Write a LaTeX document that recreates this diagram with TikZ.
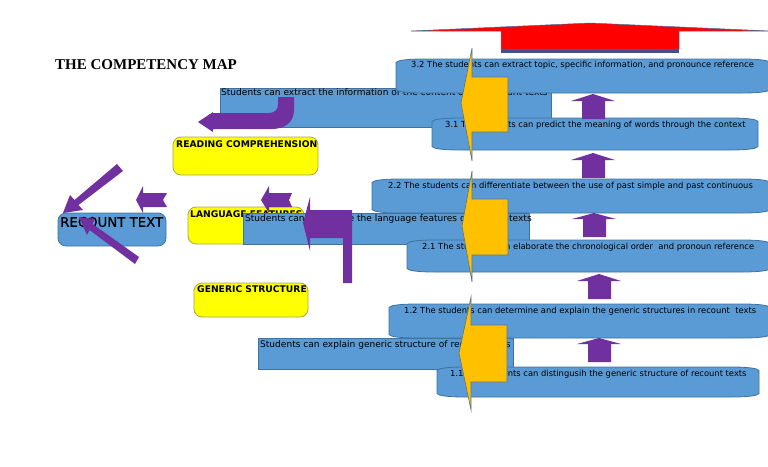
\documentclass[tikz,border=0pt]{standalone}
\usepackage{xcolor}
\usepackage{fontspec}
\setmainfont{DejaVu Sans}
\newfontfamily\titlefont{Liberation Serif}
\newfontfamily\recountfont[FakeBold=0.6]{DejaVu Sans}
\definecolor{boxblue}{HTML}{5B9BD5}
\definecolor{edgeblue}{HTML}{41719C}
\definecolor{arrowpurple}{HTML}{7030A0}
\definecolor{arroworange}{HTML}{FFC000}
\definecolor{pureyellow}{HTML}{FFFF00}
\definecolor{yellowedge}{HTML}{A5A84C}
\definecolor{stripblue}{HTML}{44508A}
\tikzset{
    bluebox/.style={fill=boxblue, draw=edgeblue, line width=0.8pt},
    yellowbox/.style={fill=pureyellow, draw=yellowedge, line width=0.8pt, rounded corners=8pt},
    purplearrow/.style={fill=arrowpurple, draw=none},
    orangearrow/.style={fill=arroworange, draw=edgeblue!70!gray, line width=0.6pt},
    boxtext/.style={font=\fontsize{8.37}{9}\selectfont, anchor=west, inner sep=0pt, text=black},
    plaintext/.style={font=\fontsize{9.05}{10}\selectfont, anchor=west, inner sep=0pt, text=black},
    headtext/.style={font=\fontsize{9.2}{10}\selectfont\bfseries, anchor=west, inner sep=0pt}
}
\newcommand{\pillbox}[4]{%
    \draw[bluebox] (#1,#2+3.5) .. controls (#1+1,#2+1.5) and (#1+10,#2) .. (#1+28,#2) -- (#3-28,#2)
        .. controls (#3-10,#2) and (#3-1,#2+1.5) .. (#3,#2+3.5) -- (#3,#4-3.5)
        .. controls (#3-1,#4-1.5) and (#3-10,#4) .. (#3-28,#4) -- (#1+28,#4)
        .. controls (#1+10,#4) and (#1+1,#4-1.5) .. (#1,#4-3.5) -- cycle;}
\newcommand{\upblock}[4]{%
    \fill[purplearrow] (#1,#2) -- (#1+22,#3) -- (#1+12,#3) -- (#1+12,#4) -- (#1-11,#4) -- (#1-11,#3) -- (#1-22,#3) -- cycle;}
\begin{document}
\begin{tikzpicture}[x=1pt, y=-1pt]
    \useasboundingbox (0,0) rectangle (768,466);

    % Title
    \node[font=\titlefont\fontsize{15}{17}\selectfont\bfseries, anchor=west, inner sep=0pt] (title) at (55,64.5) {THE COMPETENCY MAP};

    % Red arrow at the top
    \draw[fill=stripblue, draw=none] (501,45) rectangle (679,53);
    \draw[fill=red, draw=edgeblue, line width=0.5pt] (590,23) -- (770,31) -- (679,31) -- (679,49) -- (501,49) -- (501,31) -- (411,31) -- cycle;

    % Yellow boxes
    \draw[yellowbox] (173,137) rectangle (318,175);
    \node[headtext] (reading) at (176,144) {READING COMPREHENSION};
    \draw[yellowbox] (188,207) rectangle (304,244);
    \node[headtext] (language) at (190,214) {LANGUAGE FEATURES};
    \draw[yellowbox] (194,283) rectangle (308,317);
    \node[headtext] (generic) at (197,289) {GENERIC STRUCTURE};

    % Recount text
    \draw[bluebox, rounded corners=8pt] (58,213) rectangle (166,246);
    \node[font=\recountfont\fontsize{13.3}{15}\selectfont, anchor=west, inner sep=0pt] (recount) at (60,222) {RECOUNT TEXT};

    % Plain blue boxes
    \draw[bluebox] (220,88) rectangle (551,127);
    \node[plaintext] (extract) at (221,92.5) {Students can extract the information of the content of the recount texts};
    \draw[bluebox] (243,213) rectangle (529,244);
    \node[plaintext] (explainlang) at (245,218.5) {Students can determine the language features of recount texts};
    \draw[bluebox] (258,338) rectangle (513,369);
    \node[plaintext] (explaingen) at (260,344.5) {Students can explain generic structure of recount texts};

    % Competency boxes
    \pillbox{396}{59}{770}{93}
    \node[boxtext] (compa) at (411,65.5) {3.2 The students can extract topic, specific information, and pronounce reference};
    \pillbox{432}{118}{758}{150}
    \node[boxtext] (compb) at (445,125.5) {3.1 The students can predict the meaning of words through the context};
    \pillbox{372}{179}{770}{213}
    \node[boxtext] (compc) at (388,186.5) {2.2 The students can differentiate between the use of past simple and past continuous};
    \pillbox{407}{240}{770}{272}
    \node[boxtext] (compd) at (422,247.5) {2.1 The students can elaborate the chronological order\ \ and pronoun reference};
    \pillbox{389}{304}{770}{338}
    \node[boxtext] (compe) at (404,311.5) {1.2 The students can determine and explain the generic structures in recount\ \ texts};
    \pillbox{437}{367}{759}{397}
    \node[boxtext] (compf) at (450,374.5) {1.1 The students can distingusih the generic structure of recount texts};

    % Up arrows
    \upblock{593}{94}{101}{119}
    \upblock{593}{153}{160}{178}
    \upblock{594}{213}{219}{237}
    \upblock{599}{274}{281}{299}
    \upblock{599}{338}{344}{362}

    % Orange arrows
    \draw[orangearrow] (461,103) -- (472,48) -- (472,77) -- (508,77) -- (508,132) -- (472,132) -- (472,161) -- cycle;
    \draw[orangearrow] (462,226) -- (472,171) -- (472,199) -- (508,199) -- (508,255) -- (472,255) -- (472,282) -- cycle;
    \draw[orangearrow] (459,353) -- (471,297) -- (471,325) -- (507,325) -- (507,382) -- (471,382) -- (471,410) -- cycle;

    % Purple arrows on the left
    \fill[purplearrow] (198,122) -- (213,112) -- (213,113) -- (268,113) .. controls (275,113) and (278,110) .. (278,104) -- (278,97) -- (294,97) -- (294,110)
        .. controls (294,122) and (285,129) .. (272,129) -- (213,129) -- (213,132) -- cycle;
    \fill[purplearrow] (303,223) -- (310,197) -- (310,210) -- (352,210) -- (352,283) -- (343,283) -- (343,238) -- (310,238) -- (310,251) -- cycle;
    \fill[purplearrow] (136,200) -- (143,186) -- (143,193) -- (167,193) -- (163,200) -- (167,207) -- (143,207) -- (143,213) -- cycle;
    \fill[purplearrow] (261,200) -- (269,186) -- (269,193) -- (292,193) -- (289,200) -- (292,207) -- (269,207) -- (269,213) -- cycle;
    \fill[purplearrow] (63,213) -- (70,195) -- (74.5,200) -- (117,164) -- (123,171) -- (78.5,205) -- (83,210) -- cycle;
    \fill[purplearrow] (79,217) -- (95,219) -- (92.5,224) -- (139,257) -- (135,264) -- (89.5,230) -- (87,235) -- cycle;
\end{tikzpicture}
\end{document}
